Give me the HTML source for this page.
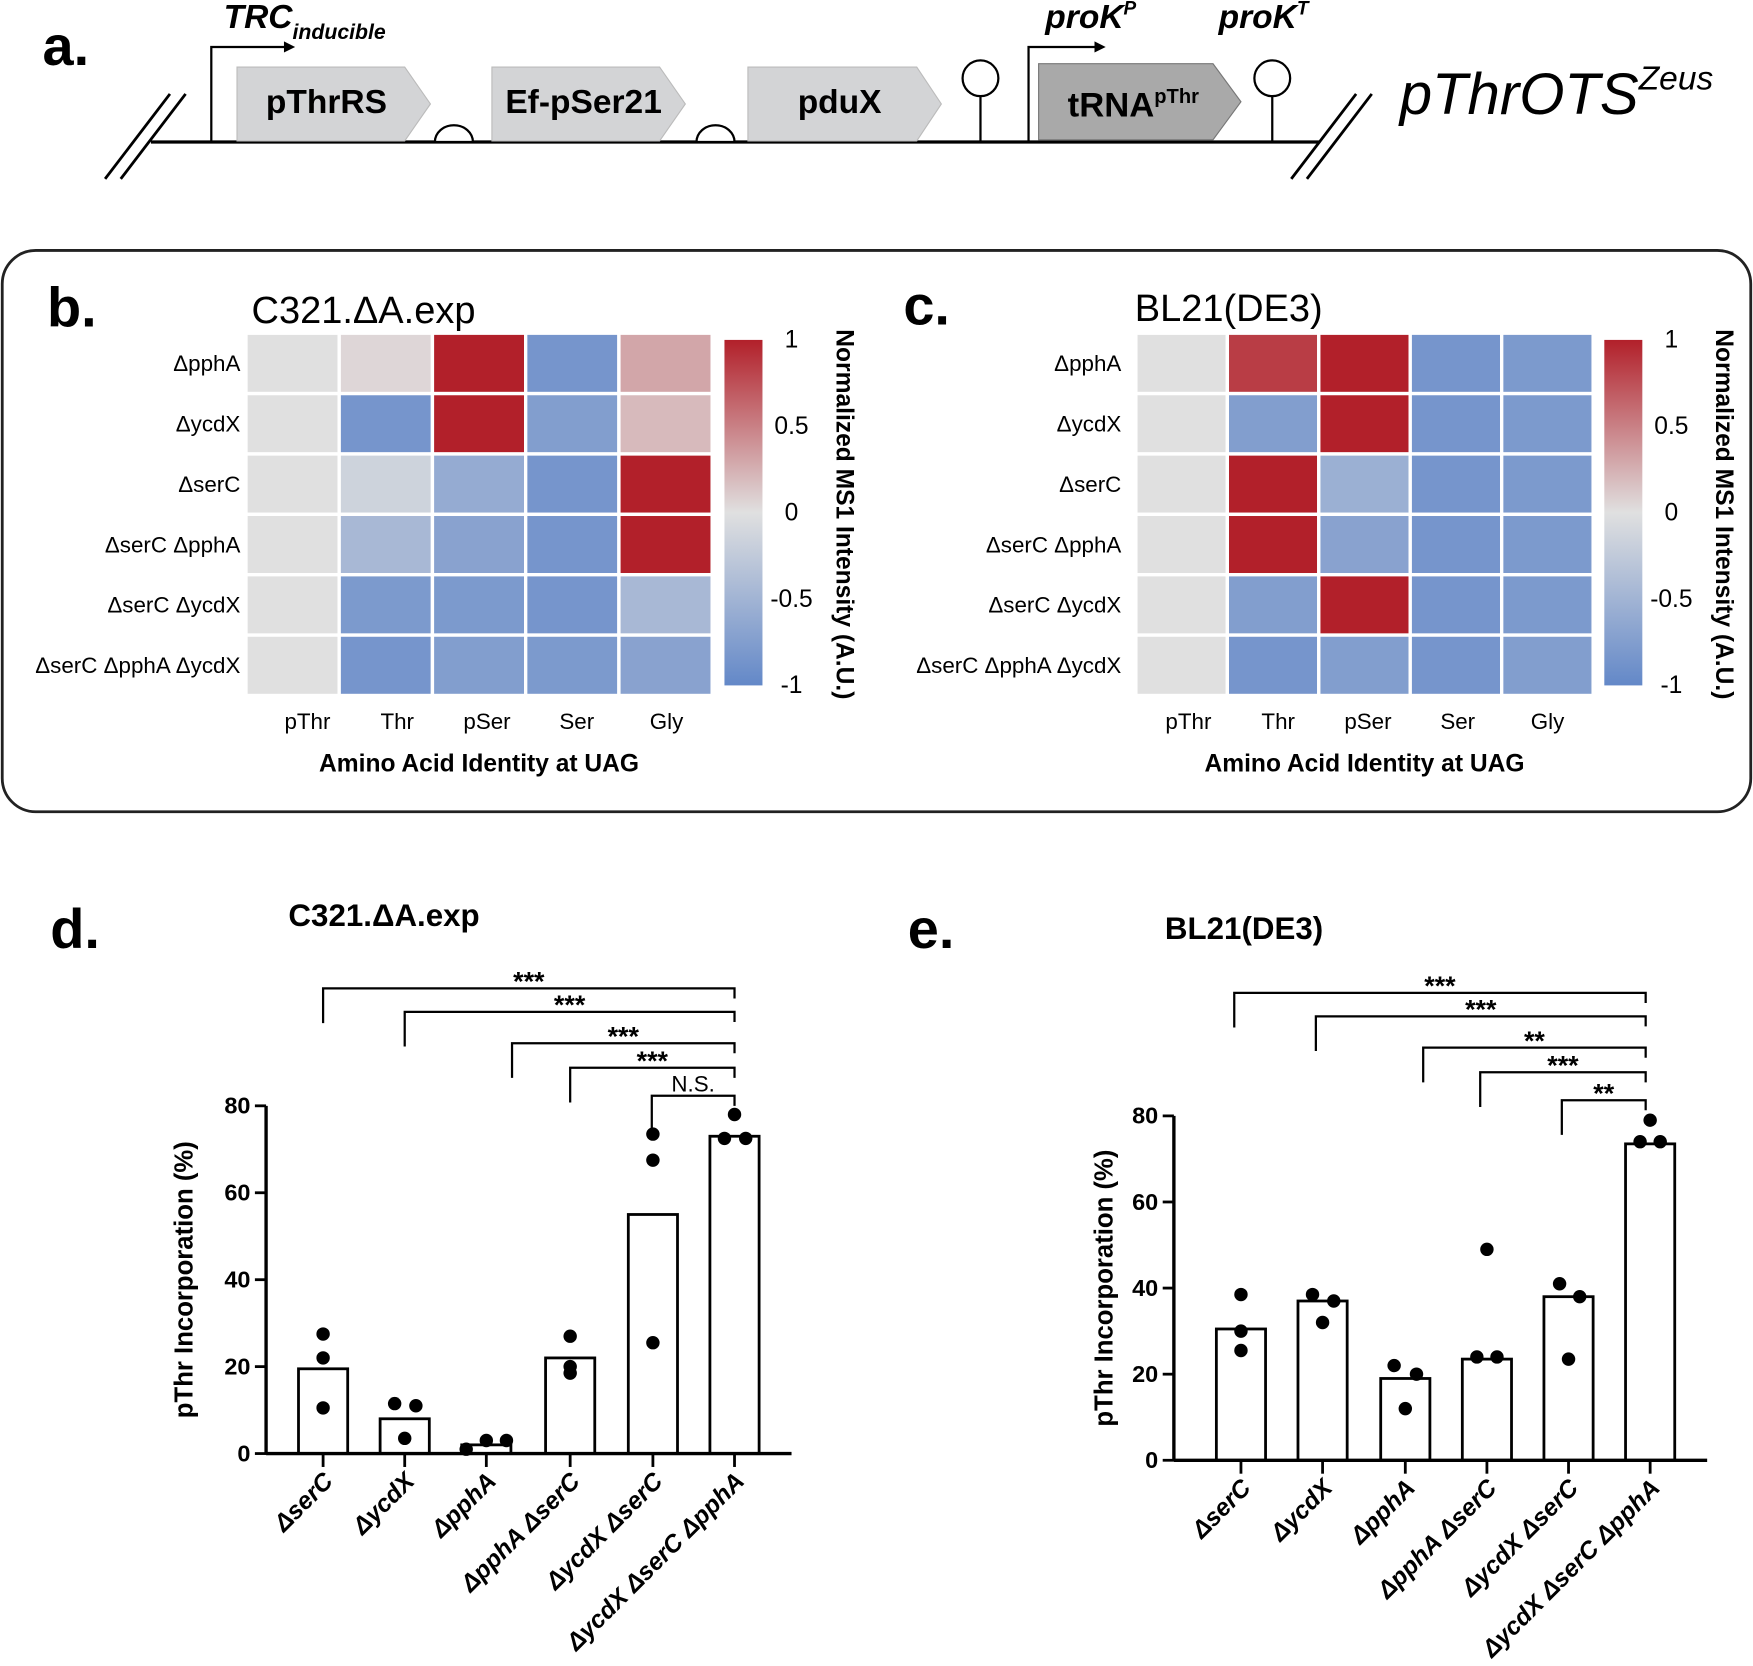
<!DOCTYPE html>
<html><head><meta charset="utf-8"><style>
html,body{margin:0;padding:0;background:#fff}
svg{display:block}
text{font-family:"Liberation Sans",Arial,sans-serif}
</style></head><body>
<svg id="fig" width="1753" height="1666" viewBox="0 0 1568 1490" preserveAspectRatio="none" xmlns="http://www.w3.org/2000/svg">
<g id="panel-a">
<text x="38" y="58" font-size="50" font-weight="bold">a.</text>
<line x1="135" y1="127" x2="1180" y2="127" stroke="#000" stroke-width="3"/>
<g stroke="#000" stroke-width="2.5"><line x1="94" y1="160" x2="152" y2="84"/><line x1="108" y1="160" x2="166" y2="84"/></g>
<g stroke="#000" stroke-width="2.5"><line x1="1155" y1="160" x2="1213" y2="84"/><line x1="1169" y1="160" x2="1227" y2="84"/></g>
<path d="M189 127 V42 H255" fill="none" stroke="#000" stroke-width="2"/>
<path d="M254 37 L264 42 L254 47 Z" fill="#000"/>
<text x="200" y="25" font-size="30" font-weight="bold" font-style="italic">TRC<tspan font-size="19" dy="10">inducible</tspan></text>
<polygon points="212,60 362,60 385,93 362,126 212,126" fill="#d3d4d6" stroke="#bbb"/>
<text x="292" y="101" font-size="30" font-weight="bold" text-anchor="middle">pThrRS</text>
<polygon points="440,60 590,60 613,93 590,126 440,126" fill="#d3d4d6" stroke="#bbb"/>
<text x="522" y="101" font-size="30" font-weight="bold" text-anchor="middle">Ef-pSer21</text>
<polygon points="669,60 820,60 842,93 820,126 669,126" fill="#d3d4d6" stroke="#bbb"/>
<text x="751" y="101" font-size="30" font-weight="bold" text-anchor="middle">pduX</text>
<path d="M389 127 A17 15 0 0 1 423 127 Z" fill="#fff" stroke="#000" stroke-width="2"/>
<path d="M623 127 A17 15 0 0 1 657 127 Z" fill="#fff" stroke="#000" stroke-width="2"/>
<line x1="877" y1="127" x2="877" y2="86" stroke="#000" stroke-width="2"/><circle cx="877" cy="70" r="16" fill="#fff" stroke="#000" stroke-width="2"/>
<path d="M920 127 V42 H980" fill="none" stroke="#000" stroke-width="2"/>
<path d="M979 37 L989 42 L979 47 Z" fill="#000"/>
<text x="935" y="25" font-size="30" font-weight="bold" font-style="italic">proK<tspan font-size="17" dy="-12">P</tspan></text>
<polygon points="929,57 1085,57 1110,91 1085,125 929,125" fill="#a9a9a9" stroke="#777"/>
<text x="955" y="104" font-size="31" font-weight="bold">tRNA<tspan font-size="18" dy="-12">pThr</tspan></text>
<line x1="1138" y1="127" x2="1138" y2="86" stroke="#000" stroke-width="2"/><circle cx="1138" cy="70" r="16" fill="#fff" stroke="#000" stroke-width="2"/>
<text x="1090" y="25" font-size="30" font-weight="bold" font-style="italic">proK<tspan font-size="17" dy="-12">T</tspan></text>
<text x="1252" y="102" font-size="52" font-style="italic">pThrOTS<tspan font-size="30" dy="-22">Zeus</tspan></text>
</g>
<rect x="2" y="224" width="1564" height="502" rx="30" fill="none" stroke="#222" stroke-width="2.5"/>
<text x="42" y="292" font-size="50" font-weight="bold">b.</text>
<text x="225" y="289" font-size="34">C321.ΔA.exp</text>
<text x="808" y="290" font-size="50" font-weight="bold">c.</text>
<text x="1015" y="287" font-size="34">BL21(DE3)</text>
<text x="45" y="848" font-size="50" font-weight="bold">d.</text>
<text x="258" y="828" font-size="28" font-weight="bold">C321.ΔA.exp</text>
<text x="812" y="848" font-size="50" font-weight="bold">e.</text>
<text x="1042" y="840" font-size="28" font-weight="bold">BL21(DE3)</text>
<defs><linearGradient id="cbar" x1="0" y1="1" x2="0" y2="0">
<stop offset="0" stop-color="#6388c8"/><stop offset="0.5" stop-color="#e0e0e0"/><stop offset="1" stop-color="#b2202a"/></linearGradient></defs>
</svg>
<script>
const aminoAcids = ["pThr","Thr","pSer","Ser","Gly"];
const strainsHeat = ["ΔpphA","ΔycdX","ΔserC","ΔserC ΔpphA","ΔserC ΔycdX","ΔserC ΔpphA ΔycdX"];
const heatB = [
 [0,0.05,1,-0.85,0.3],
 [0,-0.85,1,-0.75,0.2],
 [0,-0.15,-0.6,-0.85,1],
 [0,-0.45,-0.7,-0.85,1],
 [0,-0.8,-0.8,-0.85,-0.45],
 [0,-0.85,-0.75,-0.8,-0.7]];
const heatC = [
 [0,0.85,1,-0.85,-0.8],
 [0,-0.75,1,-0.85,-0.8],
 [0,1,-0.55,-0.85,-0.8],
 [0,1,-0.7,-0.85,-0.8],
 [0,-0.75,1,-0.85,-0.8],
 [0,-0.85,-0.75,-0.85,-0.75]];
const cbarTicks = [1,0.5,0,-0.5,-1];
const barCats = ["ΔserC","ΔycdX","ΔpphA","ΔpphA ΔserC","ΔycdX ΔserC","ΔycdX ΔserC ΔpphA"];
const barD = [19.5,8,2,22,55,73];
const dotsD = [[27.5,22,10.5],[11.5,11,3.5],[1,3,3],[27,20,18.5],[73.5,67.5,25.5],[78,72.5,72.5]];
const barE = [30.5,37,19,23.5,38,73.5];
const dotsE = [[38.5,30,25.5],[38.5,37,32],[22,20,12],[49,24,24],[41,38,23.5],[79,74,74]];
const dotOffsets = [[0,0,0],[-9,10,0],[-18,0,18],[0,0,0],[0,0,0],[0,-9,10]];
const dotOffsetsE = [[0,0,0],[-9,10,0],[-10,10,0],[0,-9,9],[-8,10,0],[0,-9,9]];
const yTicks = [0,20,40,60,80];
const sigD = [["***",0],["***",1],["***",2],["***",3],["N.S.",4]];
const sigE = [["***",0],["***",1],["**",2],["***",3],["**",4]];

const svg = document.getElementById('fig');
const NS = 'http://www.w3.org/2000/svg';
function mk(tag, attrs, parent){const e=document.createElementNS(NS,tag);for(const k in attrs)e.setAttribute(k,attrs[k]);(parent||svg).appendChild(e);return e;}
function lerp(a,b,t){return a.map((v,i)=>Math.round(v+(b[i]-v)*t));}
function color(v){const blue=[99,136,200],grey=[224,224,224],red=[178,32,42];
 const c = v<0 ? lerp(grey,blue,-v) : lerp(grey,red,v); return 'rgb('+c.join(',')+')';}

function heatmap(data,x0,x1,y0,y1,cbx,name,rowGap,labStart){
 const g=mk('g',{});
 
 
 const cw=(x1-x0)/aminoAcids.length, ch=(y1-y0)/strainsHeat.length;
 data.forEach((row,r)=>row.forEach((v,c)=>{
  const rc=mk('rect',{x:x0+c*cw,y:y0+r*ch,width:cw,height:ch,fill:color(v),stroke:'#fff','stroke-width':3},g);
  
  
 }));
 strainsHeat.forEach((s,r)=>{const t=mk('text',{x:x0-rowGap,y:y0+(r+0.5)*ch+7,'font-size':20,'text-anchor':'end'},g);t.textContent=s;
  
  });
 aminoAcids.forEach((a,c)=>{const t=mk('text',{x:x0+labStart+c*80.3,y:652,'font-size':20,'text-anchor':'middle'},g);t.textContent=a;
  
  });
 const at=mk('text',{x:(x0+x1)/2,y:690,'font-size':22,'font-weight':'bold','text-anchor':'middle'},g);at.textContent='Amino Acid Identity at UAG';
 
 
 const cb=mk('rect',{x:cbx,y:304,width:34,height:309,fill:'url(#cbar)'},g);
 
 
 cbarTicks.forEach(v=>{const t=mk('text',{x:cbx+60,y:304+(1-v)/2*309+7,'font-size':22,'text-anchor':'middle'},g);t.textContent=String(v);
  
  });
 const ct=mk('text',{x:0,y:0,'font-size':22,'font-weight':'bold','text-anchor':'middle',transform:'translate('+(cbx+100)+',460) rotate(90)'},g);ct.textContent='Normalized MS1 Intensity (A.U.)';
 
 
}
heatmap(heatB,220,637,298,622,648,'heatmap-b',5,55);
heatmap(heatC,1016,1425,298,622,1435,'heatmap-c',13,47);

function barChart(vals,dots,offs,sig,ax,axEnd,yb,yt,centers,name,ytitleX,sigStartOff,sigEndOff,sigTop){
 const g=mk('g',{});
 
 
 const y=v=>yb-(yb-yt)*v/80;
 vals.forEach((v,i)=>{const r=mk('rect',{x:centers[i]-22,y:y(v),width:44,height:yb-y(v),fill:'#fff',stroke:'#000','stroke-width':2.5},g);
  
  });
 dots.forEach((ds,i)=>ds.forEach((d,j)=>{const c=mk('circle',{cx:centers[i]+offs[i][j],cy:y(d),r:6,fill:'#000'},g);
  
  }));
 mk('line',{x1:ax,y1:yb,x2:axEnd,y2:yb,stroke:'#000','stroke-width':3},g);
 mk('line',{x1:ax,y1:yb+1,x2:ax,y2:yt,stroke:'#000','stroke-width':3},g);
 yTicks.forEach(v=>{mk('line',{x1:ax-10,y1:y(v),x2:ax,y2:y(v),stroke:'#000','stroke-width':2.5},g);
  const t=mk('text',{x:ax-14,y:y(v)+7,'font-size':21,'font-weight':'bold','text-anchor':'end'},g);t.textContent=String(v);
  
  });
 const yt2=mk('text',{x:0,y:0,'font-size':23,'font-weight':'bold','text-anchor':'middle',transform:'translate('+ytitleX+','+((yb+yt)/2)+') rotate(-90)'},g);yt2.textContent='pThr Incorporation (%)';
 
 
 barCats.forEach((c,i)=>{mk('line',{x1:centers[i],y1:yb,x2:centers[i],y2:yb+12,stroke:'#000','stroke-width':2.5},g);
  const t=mk('text',{x:0,y:0,'font-size':22,'font-weight':'bold','font-style':'italic','text-anchor':'end',transform:'translate('+(centers[i]+10)+','+(yb+26)+') rotate(-45)'},g);t.textContent=c;
  
  });
 const last=centers[centers.length-1]+sigEndOff;
 const levels=[0,21,49,71,96];
 sig.forEach(([s,i],k)=>{const ly=sigTop+levels[k];
  const sx=centers[i]+sigStartOff[k];
  mk('path',{d:'M'+sx+' '+(ly+31)+' V'+ly+' H'+last+' V'+(ly+9),fill:'none',stroke:'#000','stroke-width':2},g);
  const t=mk('text',{x:(sx+last)/2,y:ly-(s==='N.S.'?4:-2),'font-size':s==='N.S.'?20:24,'font-weight':s==='N.S.'?'normal':'bold','text-anchor':'middle'},g);t.textContent=s;
  
  });
}
barChart(barD,dotsD,dotOffsets,sigD,238,708,1300,989,[289,362,435,510,584,657],'bar-chart-d',172,[0,0,23,0,-1],0,884);
barChart(barE,dotsE,dotOffsetsE,sigE,1050,1527,1306,998,[1110,1183,1257,1330,1403,1476],'bar-chart-e',995,[-6,-6,16,-6,-6],-4,888);
</script>
</body></html>
